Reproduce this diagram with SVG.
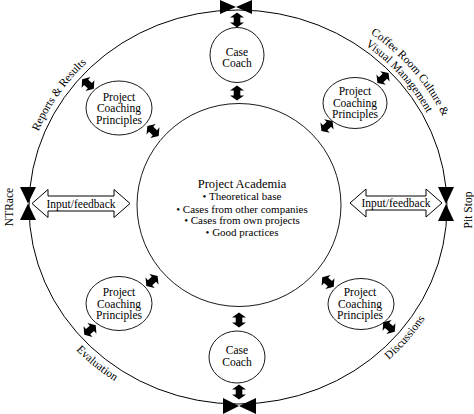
<svg xmlns="http://www.w3.org/2000/svg" xmlns:xlink="http://www.w3.org/1999/xlink" width="474" height="414" viewBox="0 0 474 414">
<style>
text{font-family:"Liberation Serif","Times New Roman",serif;fill:#000;}
.ring{fill:none;stroke:#000;stroke-width:1;}
.node{fill:#fff;stroke:#000;stroke-width:0.9;}
.t{font-size:11.5px;text-anchor:middle;}
.c{font-size:11px;text-anchor:middle;}
.lab{font-size:11.5px;}
.io{fill:#fff;stroke:#000;stroke-width:1;}
.blk{fill:#000;stroke:none;}
</style>
<defs>
<path id="dbl" d="M -7.5 0 L -2.5 -7 L -2.5 -3.3 L 2.5 -3.3 L 2.5 -7 L 7.5 0 L 2.5 7 L 2.5 3.3 L -2.5 3.3 L -2.5 7 Z"/>
<path id="pRep" d="M 24.6 231.7 A 215 203 0 0 1 175.1 12.9"/>
<path id="pCof" d="M 281.1 -3.1 A 226 214 0 0 1 464 210.7"/>
<path id="pVis" d="M 275.1 8.6 A 213.5 201.5 0 0 1 451.5 207"/>
<path id="pEva" d="M 19.2 239.8 A 221.5 209.5 0 0 0 234.1 416.5"/>
<path id="pDis" d="M 280.2 412.2 A 221 209 0 0 0 459 203.4"/>
</defs>

<g id="outer-ring">
<ellipse class="ring" cx="238" cy="207" rx="209" ry="197"/>
<text class="lab" text-anchor="middle"><textPath href="#pRep" startOffset="50%">Reports &amp; Results</textPath></text>
<text class="lab" text-anchor="middle"><textPath href="#pCof" startOffset="50%">Coffee Room Culture &amp;</textPath></text>
<text class="lab" text-anchor="middle"><textPath href="#pVis" startOffset="50%">Visual Management</textPath></text>
<text class="lab" text-anchor="middle"><textPath href="#pEva" startOffset="50%">Evaluation</textPath></text>
<text class="lab" text-anchor="middle"><textPath href="#pDis" startOffset="50%">Discussions</textPath></text>
<text class="lab" text-anchor="middle" transform="translate(13,207) rotate(-90)">NTRace</text>
<text class="lab" text-anchor="middle" transform="translate(472,210) rotate(-90)">Pit Stop</text>
</g>

<g id="gate-top"><polygon class="blk" points="220,0 236,7 220,14"/><polygon class="blk" points="252,0 236,7 252,14"/></g>
<g id="gate-bottom"><polygon class="blk" points="223,398 239,406 223,414"/><polygon class="blk" points="256,398 239,406 256,414"/></g>
<g id="gate-left"><polygon class="blk" points="20,187 28,203.5 36,187"/><polygon class="blk" points="20,220 28,203.5 36,220"/></g>
<g id="gate-right"><polygon class="blk" points="438,187 446,204 454,187"/><polygon class="blk" points="438,221 446,204 454,221"/></g>

<g id="academia">
<ellipse class="node" cx="239" cy="205" rx="102" ry="101.5"/>
<text x="242" y="188" style="font-size:12.5px;text-anchor:middle">Project Academia</text>
<text class="c" x="242" y="200">• Theoretical base</text>
<text class="c" x="242" y="212.5">• Cases from other companies</text>
<text class="c" x="242" y="224">• Cases from own projects</text>
<text class="c" x="242" y="235.5">• Good practices</text>
</g>

<g id="case-coach-top">
<ellipse class="node" cx="237" cy="55" rx="27" ry="27.5"/>
<text class="t" x="237" y="56">Case</text>
<text class="t" x="237" y="67">Coach</text>
</g>
<g id="case-coach-bottom">
<ellipse class="node" cx="237" cy="357" rx="28" ry="26"/>
<text class="t" x="237" y="354">Case</text>
<text class="t" x="237" y="366">Coach</text>
</g>

<g id="pcp-upper-left">
<ellipse class="node" cx="119" cy="108" rx="33" ry="27"/>
<text class="t" x="119" y="100.5">Project</text>
<text class="t" x="119" y="112">Coaching</text>
<text class="t" x="119" y="123.5">Principles</text>
</g>
<g id="pcp-upper-right">
<ellipse class="node" cx="355" cy="103" rx="32" ry="25.5"/>
<text class="t" x="355" y="95">Project</text>
<text class="t" x="355" y="106.5">Coaching</text>
<text class="t" x="355" y="118">Principles</text>
</g>
<g id="pcp-lower-left">
<ellipse class="node" cx="119" cy="303.5" rx="33" ry="27"/>
<text class="t" x="119" y="296">Project</text>
<text class="t" x="119" y="307.5">Coaching</text>
<text class="t" x="119" y="319">Principles</text>
</g>
<g id="pcp-lower-right">
<ellipse class="node" cx="361" cy="304" rx="33" ry="25.5"/>
<text class="t" x="360" y="296">Project</text>
<text class="t" x="360" y="307.5">Coaching</text>
<text class="t" x="360" y="319">Principles</text>
</g>

<g id="connectors">
<path class="io" d="M 32 203.5 L 48 189.5 L 48 196 L 114 196 L 114 189.5 L 130 203.5 L 114 217.5 L 114 211 L 48 211 L 48 217.5 Z"/>
<text class="t" x="81" y="207.5">Input/feedback</text>
<path class="io" d="M 350 203 L 366 189 L 366 196 L 426 196 L 426 189 L 442 203 L 426 217 L 426 210 L 366 210 L 366 217 Z"/>
<text class="t" x="396" y="207">Input/feedback</text>
<use href="#dbl" class="blk" transform="translate(237,20) rotate(90)"/>
<use href="#dbl" class="blk" transform="translate(237,93) rotate(90)"/>
<use href="#dbl" class="blk" transform="translate(239,320) rotate(90)"/>
<use href="#dbl" class="blk" transform="translate(239,392) rotate(90)"/>
<use href="#dbl" class="blk" transform="translate(88,84) rotate(39)"/>
<use href="#dbl" class="blk" transform="translate(153,131) rotate(41)"/>
<use href="#dbl" class="blk" transform="translate(383,78) rotate(-42)"/>
<use href="#dbl" class="blk" transform="translate(327,126) rotate(-42)"/>
<use href="#dbl" class="blk" transform="translate(90,330) rotate(-40)"/>
<use href="#dbl" class="blk" transform="translate(152,281) rotate(-41)"/>
<use href="#dbl" class="blk" transform="translate(328,282) rotate(40)"/>
<use href="#dbl" class="blk" transform="translate(389,327) rotate(40)"/>
</g>
</svg>
